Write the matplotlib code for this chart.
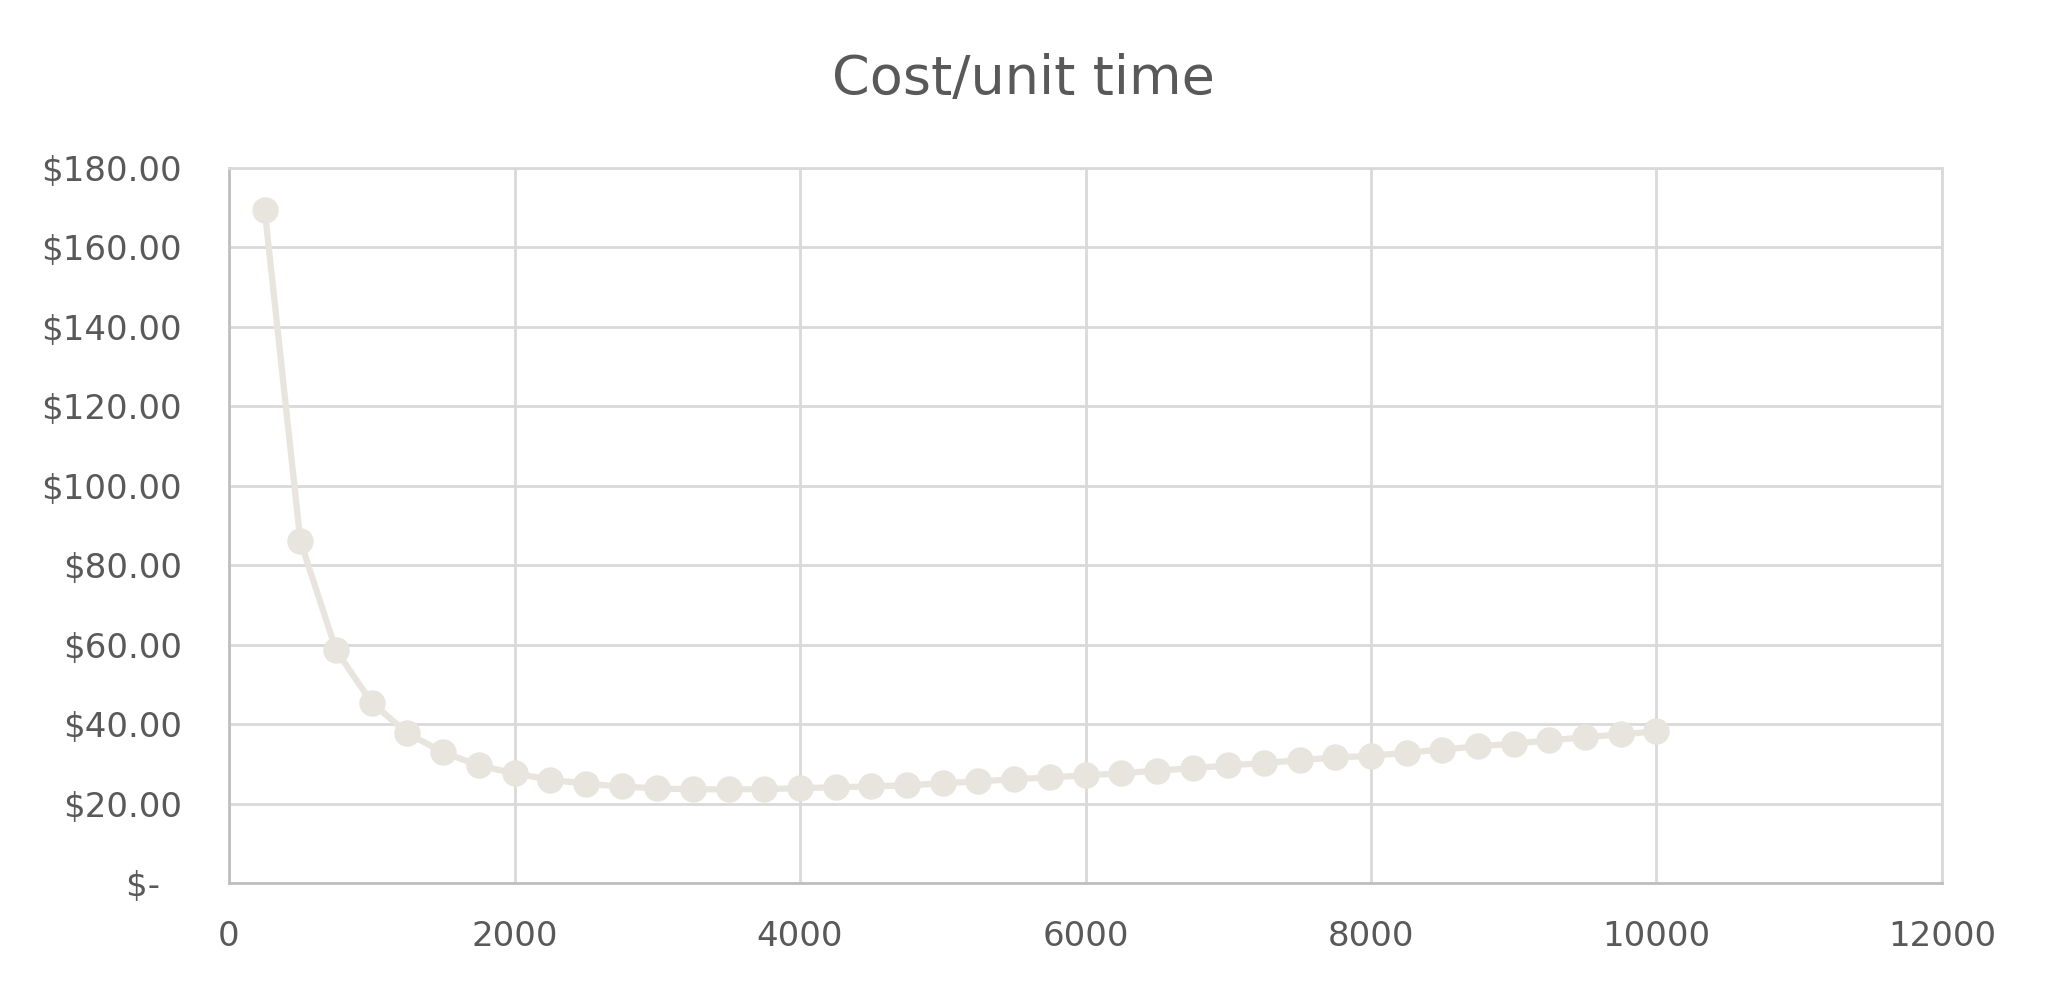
import matplotlib
matplotlib.use("Agg")
import matplotlib.pyplot as plt
from matplotlib.ticker import FixedLocator, FuncFormatter

x_values = [250, 500, 750, 1000, 1250, 1500, 1750, 2000, 2250, 2500,
            2750, 3000, 3250, 3500, 3750, 4000, 4250, 4500, 4750, 5000,
            5250, 5500, 5750, 6000, 6250, 6500, 6750, 7000, 7250, 7500,
            7750, 8000, 8250, 8500, 8750, 9000, 9250, 9500, 9750, 10000]
cost_values = [169.5, 86.1, 58.6, 45.4, 37.7, 32.9, 29.6, 27.6, 26.0, 25.0,
               24.3, 23.8, 23.6, 23.6, 23.6, 23.9, 24.1, 24.3, 24.6, 25.1,
               25.6, 26.1, 26.6, 27.1, 27.6, 28.3, 28.9, 29.6, 30.2, 30.9,
               31.6, 32.0, 32.8, 33.6, 34.4, 35.1, 35.9, 36.7, 37.4, 38.2]
title_text = "Cost/unit time"
y_ticks = [0, 20, 40, 60, 80, 100, 120, 140, 160, 180]
x_ticks = [0, 2000, 4000, 6000, 8000, 10000, 12000]

plt.rcParams['font.family'] = ['DejaVu Sans']

fig = plt.figure(figsize=(20.46, 9.90), dpi=100)
ax = fig.add_axes([229/2046, 1-883/990, (1942-229)/2046, (883-168)/990])

ax.plot(x_values, cost_values, color='#E8E5DE', linewidth=4.5, marker='o',
        markersize=18, markerfacecolor='#E8E5DE', markeredgecolor='#E8E5DE',
        zorder=3, clip_on=False)

ax.set_xlim(0, 12000)
ax.set_ylim(0, 180)
ax.xaxis.set_major_locator(FixedLocator(x_ticks))
ax.yaxis.set_major_locator(FixedLocator(y_ticks))

def yfmt(v, pos):
    if v == 0:
        return "$-  "
    return "${:,.2f}".format(v)

ax.yaxis.set_major_formatter(FuncFormatter(yfmt))
ax.xaxis.set_major_formatter(FuncFormatter(lambda v, p: "{:d}".format(int(v))))

ax.grid(True, color='#D9D9D9', linewidth=2.0, zorder=0)
ax.set_axisbelow(True)
for side in ['top', 'right']:
    ax.spines[side].set_color('#D9D9D9')
    ax.spines[side].set_linewidth(2.0)
for side in ['left', 'bottom']:
    ax.spines[side].set_color('#BFBFBF')
    ax.spines[side].set_linewidth(2.0)

ax.tick_params(axis='both', length=0, labelsize=24.5, labelcolor='#595959')
ax.tick_params(axis='y', pad=34)
ax.tick_params(axis='x', pad=27)

fig.text(0.5, 1-94/990, title_text, ha='center', va='baseline',
         fontsize=39, color='#595959')

fig.savefig("out.png", dpi=100, facecolor='white')
